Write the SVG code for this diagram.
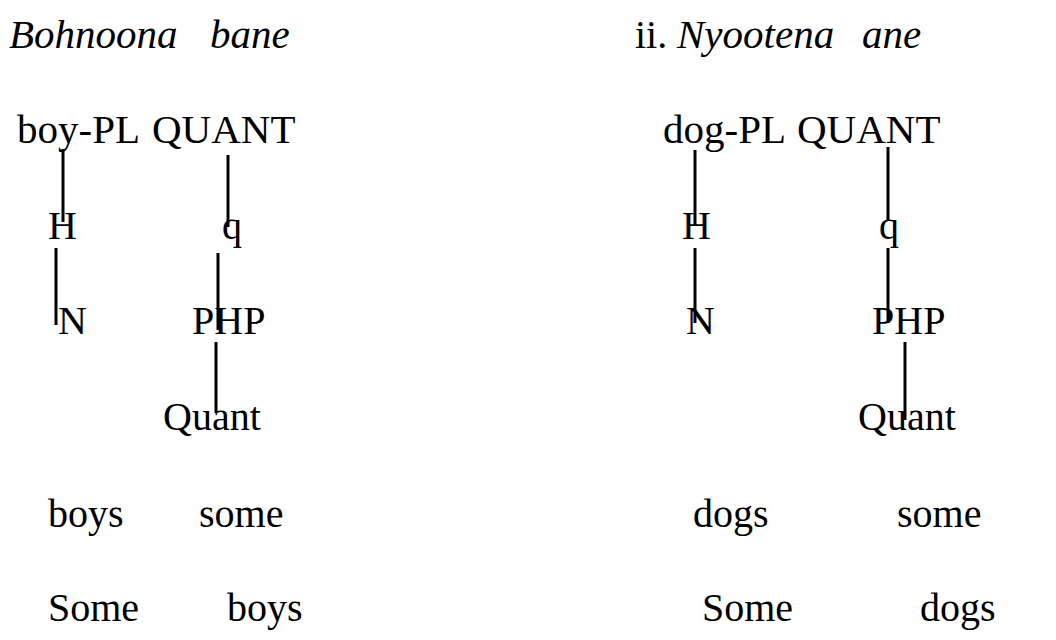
<svg xmlns="http://www.w3.org/2000/svg" width="1056" height="640" viewBox="0 0 1056 640">
<style>
text{font-family:"Liberation Serif","Times New Roman",serif;font-size:40px;fill:#000}
.it{font-style:italic}
.gl{font-size:41px}
.ln{stroke:#000;stroke-width:3;fill:none}
</style>
<rect width="1056" height="640" fill="#fff"/>
<g id="title-left"><text class="it" x="9" y="48" style="font-size:41px">Bohnoona<tspan x="210">bane</tspan></text></g>
<g id="title-right"><text x="635" y="48">ii. <tspan class="it" x="677" style="font-size:41px">Nyootena</tspan><tspan class="it" x="862" style="font-size:41px">ane</tspan></text></g>

<g id="left-tree">
<g id="l-gloss"><text class="gl" x="17" y="143">boy-PL<tspan x="152">QUANT</tspan></text></g>
<g id="l-H"><text x="48" y="239">H</text></g>
<g id="l-q"><text x="222" y="239">q</text></g>
<g id="l-N"><text x="58" y="334">N</text></g>
<g id="l-PHP"><text x="192" y="334">PHP</text></g>
<g id="l-Quant"><text x="163" y="430">Quant</text></g>
<g id="l-words"><text x="48" y="527">boys</text><text x="199" y="527">some</text></g>
<g id="l-trans"><text x="48" y="621">Some</text><text x="227" y="621">boys</text></g>
</g>

<g id="right-tree">
<g id="r-gloss"><text class="gl" x="663" y="143">dog-PL<tspan x="797">QUANT</tspan></text></g>
<g id="r-H"><text x="682" y="239">H</text></g>
<g id="r-q"><text x="879" y="239">q</text></g>
<g id="r-N"><text x="686" y="334">N</text></g>
<g id="r-PHP"><text x="872" y="334">PHP</text></g>
<g id="r-Quant"><text x="858" y="430">Quant</text></g>
<g id="r-words"><text x="693" y="527">dogs</text><text x="897" y="527">some</text></g>
<g id="r-trans"><text x="702" y="621">Some</text><text x="920" y="621">dogs</text></g>
</g>

<g id="connectors">
<line class="ln" x1="63" y1="149" x2="63" y2="222"/>
<line class="ln" x1="228" y1="155" x2="228" y2="227"/>
<line class="ln" x1="56" y1="248" x2="56" y2="325"/>
<line class="ln" x1="218" y1="253" x2="218" y2="330"/>
<line class="ln" x1="216" y1="342" x2="216" y2="413"/>
<line class="ln" x1="695" y1="150" x2="695" y2="225"/>
<line class="ln" x1="888" y1="147" x2="888" y2="220"/>
<line class="ln" x1="695" y1="248" x2="695" y2="323"/>
<line class="ln" x1="888" y1="248" x2="888" y2="323"/>
<line class="ln" x1="905" y1="342" x2="905" y2="420"/>
</g>
</svg>
